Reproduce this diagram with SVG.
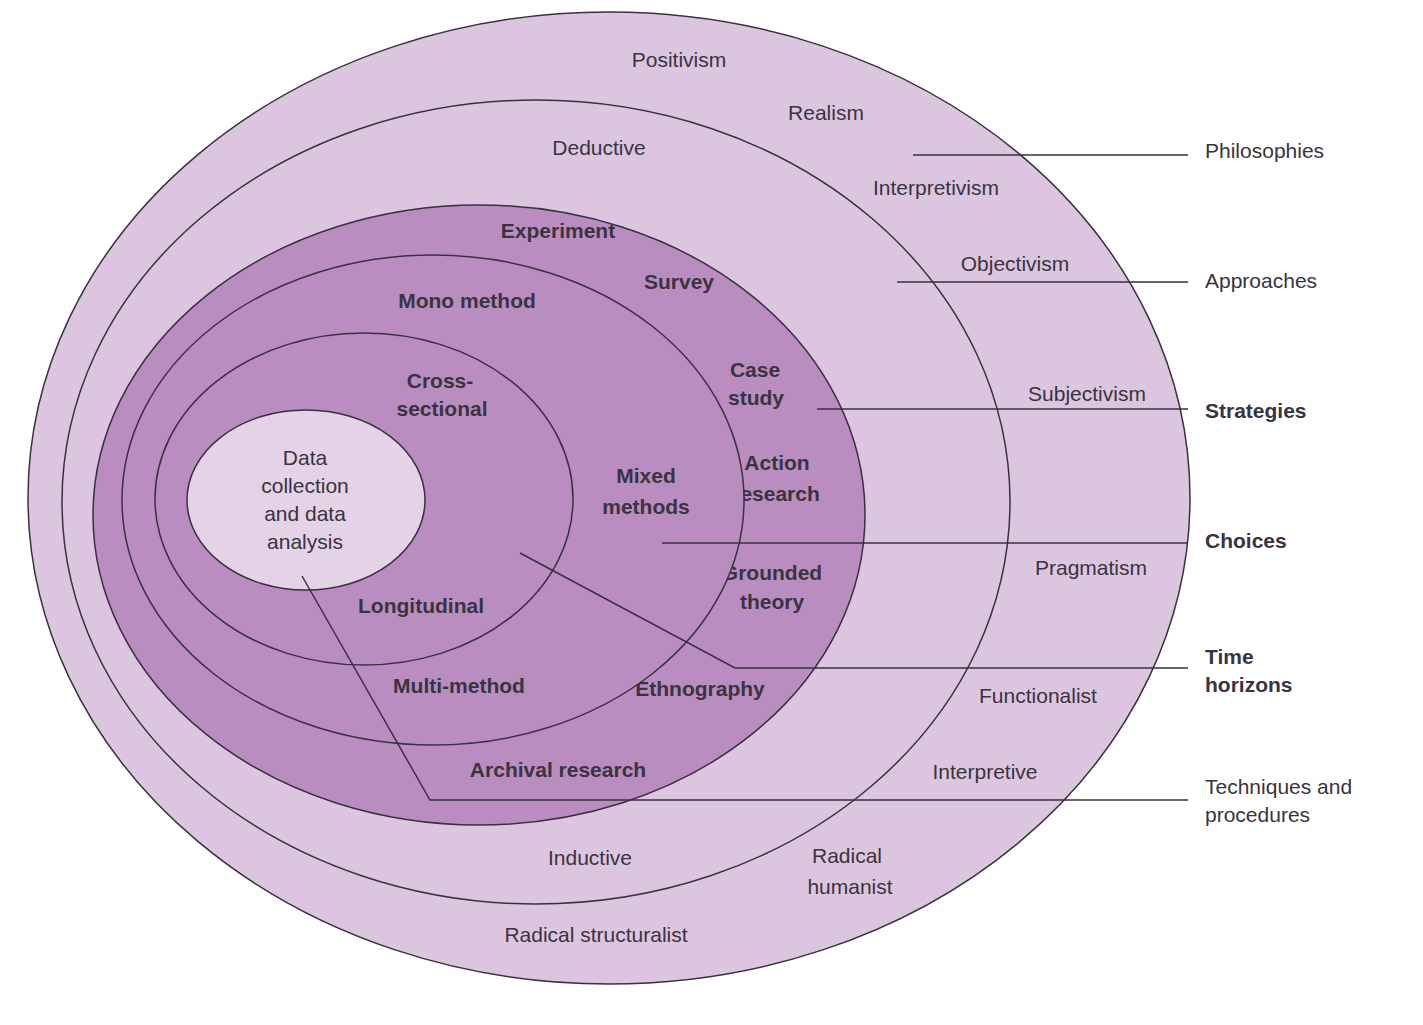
<svg xmlns="http://www.w3.org/2000/svg" width="1423" height="1025" viewBox="0 0 1423 1025">
<style>
.r{stroke:#3a3040;stroke-width:1.5}
.l{stroke:#3a3040;stroke-width:1.5;fill:none}
text{font-family:"Liberation Sans",Arial,sans-serif;font-size:21px;fill:#3a3340;text-anchor:middle}
.b{font-weight:bold}
.s{text-anchor:start}
</style>
<rect width="1423" height="1025" fill="#fff"/>
<g id="philosophies"><ellipse class="r" cx="609" cy="498" rx="581" ry="486" fill="#dcc6df"/>
<text x="679" y="67">Positivism</text><text x="826" y="120">Realism</text><text x="936" y="195">Interpretivism</text><text x="1015" y="271">Objectivism</text><text x="1087" y="401">Subjectivism</text><text x="1091" y="575">Pragmatism</text><text x="1038" y="703">Functionalist</text><text x="985" y="779">Interpretive</text><text x="847" y="863">Radical</text><text x="850" y="894">humanist</text><text x="596" y="942">Radical structuralist</text></g>
<g id="approaches"><ellipse class="r" cx="536" cy="502" rx="474" ry="402" fill="#dcc6df"/>
<text x="599" y="155">Deductive</text><text x="590" y="865">Inductive</text></g>
<g id="strategies"><ellipse class="r" cx="479" cy="515" rx="386" ry="310" fill="#b98dc0"/>
<text class="b" x="558" y="238">Experiment</text><text class="b" x="679" y="289">Survey</text><text class="b" x="755" y="377">Case</text><text class="b" x="756" y="405">study</text><text class="b" x="777" y="470">Action</text><text class="b" x="776" y="501">research</text><text class="b" x="772" y="580">Grounded</text><text class="b" x="772" y="609">theory</text><text class="b" x="700" y="696">Ethnography</text><text class="b" x="558" y="777">Archival research</text></g>
<g id="choices"><ellipse class="r" cx="433" cy="500" rx="311" ry="245" fill="#b98dc0"/>
<text class="b" x="467" y="308">Mono method</text><text class="b" x="646" y="483">Mixed</text><text class="b" x="646" y="514">methods</text><text class="b" x="459" y="693">Multi-method</text></g>
<g id="time"><ellipse class="r" cx="364" cy="499" rx="209" ry="166" fill="#b98dc0"/>
<text class="b" x="440" y="388">Cross-</text><text class="b" x="442" y="416">sectional</text><text class="b" x="421" y="613">Longitudinal</text></g>
<g id="techniques"><ellipse class="r" cx="306" cy="500" rx="119" ry="90" fill="#e4d2e6"/>
<text x="305" y="465">Data</text><text x="305" y="493">collection</text><text x="305" y="521">and data</text><text x="305" y="549">analysis</text></g>
<g id="connectors">
<path class="l" d="M913 155H1188M897 282H1188M817 409H1188M662 543H1188M520 553L735 668H1188M302 576L430 800H1188"/>
</g>
<g id="labels">
<text class="s" x="1205" y="158">Philosophies</text><text class="s" x="1205" y="288">Approaches</text><text class="s b" x="1205" y="418">Strategies</text><text class="s b" x="1205" y="548">Choices</text><text class="s b" x="1205" y="664">Time</text><text class="s b" x="1205" y="692">horizons</text><text class="s" x="1205" y="794">Techniques and</text><text class="s" x="1205" y="822">procedures</text>
</g>
</svg>
